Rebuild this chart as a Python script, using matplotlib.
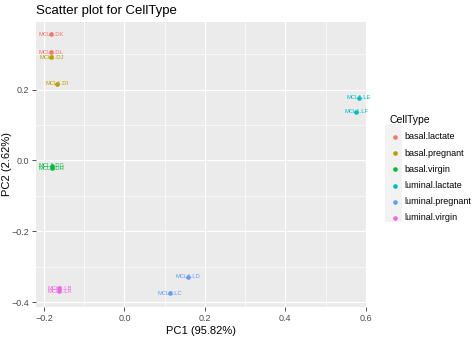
import numpy as np
import matplotlib
matplotlib.use('Agg')
import matplotlib.pyplot as plt
from matplotlib.patches import Rectangle

plt.rcParams['font.family'] = ['Liberation Sans', 'DejaVu Sans']

# PCA scores per sample
samples = ['MCL1.DK', 'MCL1.DL', 'MCL1.DJ', 'MCL1.DI', 'MCL1.DG', 'MCL1.DH',
           'MCL1.LE', 'MCL1.LF', 'MCL1.LD', 'MCL1.LC', 'MCL1.LB', 'MCL1.LA']
pc1 = [-0.182, -0.182, -0.182, -0.167, -0.181, -0.181,
       0.583, 0.576, 0.157, 0.113, -0.162, -0.162]
pc2 = [0.356, 0.306, 0.291, 0.216, -0.015, -0.022,
       0.177, 0.138, -0.328, -0.375, -0.361, -0.370]
cell_type = ['basal.lactate', 'basal.lactate', 'basal.pregnant', 'basal.pregnant',
             'basal.virgin', 'basal.virgin', 'luminal.lactate', 'luminal.lactate',
             'luminal.pregnant', 'luminal.pregnant', 'luminal.virgin', 'luminal.virgin']
groups = ['basal.lactate', 'basal.pregnant', 'basal.virgin',
          'luminal.lactate', 'luminal.pregnant', 'luminal.virgin']
colors = ['#F8766D', '#B79F00', '#00BA38', '#00BFC4', '#619CFF', '#F564E3']
cmap = dict(zip(groups, colors))

fig = plt.figure(figsize=(4.74, 3.38), dpi=100)
ax = fig.add_axes([36 / 474, 31 / 338, (367 - 36) / 474, (307 - 22) / 338])
ax.set_facecolor('#EBEBEB')

for g in groups:
    xs = [x for x, c in zip(pc1, cell_type) if c == g]
    ys = [y for y, c in zip(pc2, cell_type) if c == g]
    ax.scatter(xs, ys, s=11, color=cmap[g], label=g, zorder=3, linewidths=0)

for s, x, y, c in zip(samples, pc1, pc2, cell_type):
    ax.text(x, y, s, fontsize=4.2, color=cmap[c], ha='center', va='center', zorder=4)

ax.set_xlim(-0.22, 0.603)
ax.set_ylim(-0.414, 0.391)
ax.set_xticks([-0.2, 0.0, 0.2, 0.4, 0.6])
ax.set_yticks([-0.4, -0.2, 0.0, 0.2])
ax.set_xticks([-0.1, 0.1, 0.3, 0.5], minor=True)
ax.set_yticks([-0.3, -0.1, 0.1, 0.3], minor=True)
ax.grid(which='major', color='white', linewidth=0.9)
ax.grid(which='minor', color='white', linewidth=0.45)
ax.set_axisbelow(True)
for sp in ax.spines.values():
    sp.set_visible(False)
ax.tick_params(which='major', length=3, width=0.6, color='#333333',
               labelsize=6.5, labelcolor='#4D4D4D', pad=2)
ax.tick_params(which='minor', length=0)

ax.set_xlabel('PC1 (95.82%)', fontsize=8)
ax.set_ylabel('PC2 (2.62%)', fontsize=8)
ax.xaxis.set_label_coords(0.5, -0.068)
ax.yaxis.set_label_coords(-0.072, 0.5)
fig.text(36 / 474, 1 - 11 / 338, 'Scatter plot for CellType', fontsize=9.5,
         ha='left', va='center')

# grey key column behind legend markers
key_bg = Rectangle((385 / 474, 1 - 222 / 338), 17 / 474, 98 / 338,
                   transform=fig.transFigure, facecolor='#F2F2F2',
                   edgecolor='none', zorder=0.5, clip_on=False)
ax.add_patch(key_bg)

leg = ax.legend(title='CellType', loc='upper left',
                bbox_to_anchor=(381 / 474, 1 - 107 / 338),
                bbox_transform=fig.transFigure, frameon=False, fontsize=6.5,
                title_fontsize=7.5, alignment='left', handletextpad=0.3,
                labelspacing=0.8, markerscale=1.0, handlelength=1.4)
leg.set_zorder(5)

fig.savefig('out.png', dpi=100)
